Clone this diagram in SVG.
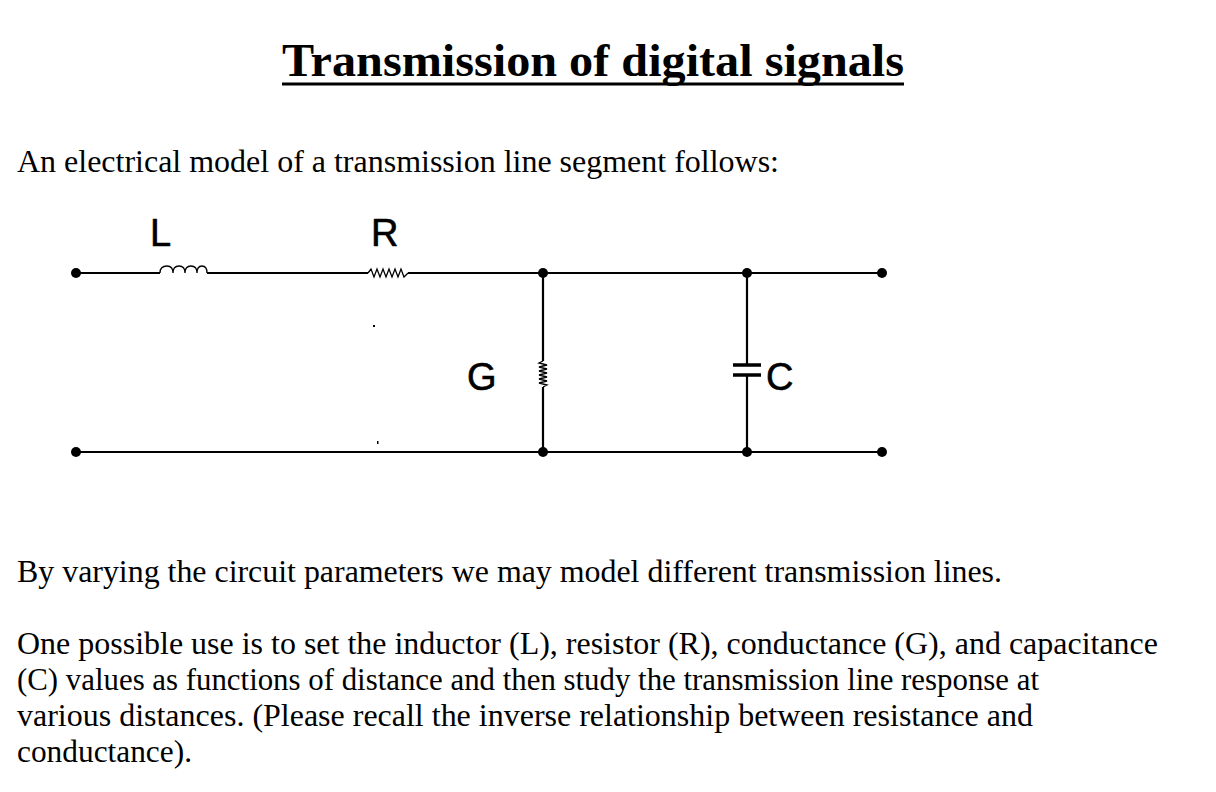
<svg xmlns="http://www.w3.org/2000/svg" width="1216" height="792" viewBox="0 0 1216 792">
<style>
.t{font-family:"Liberation Serif",serif;font-size:31.5px;fill:#000}
.lbl{font-family:"Liberation Sans",Arial,sans-serif;font-size:38px;fill:#000;stroke:#000;stroke-width:0.6}
.w{stroke:#000;stroke-width:2.2;fill:none}
.thin{stroke:#000;stroke-width:1.3;fill:none}
</style>
<rect width="1216" height="792" fill="#fff"/>
<text x="282" y="76" textLength="622" lengthAdjust="spacingAndGlyphs" style="font-family:'Liberation Serif',serif;font-size:46px;font-weight:bold">Transmission of digital signals</text>
<line x1="282" y1="84" x2="904" y2="84" stroke="#000" stroke-width="3"/>
<text class="t" x="17" y="172" textLength="762" lengthAdjust="spacingAndGlyphs">An electrical model of a transmission line segment follows:</text>
<g id="connectors">
<path class="w" d="M76 273 H160 M207 273 H368 M408 273 H882"/>
<path class="w" d="M76 452 H882"/>
<path class="w" d="M543 273 V361 M543 387 V452"/>
<path class="w" d="M747 273 V364 M747 376 V452"/>
</g>
<g id="L"><text class="lbl" x="150" y="246">L</text>
<path class="thin" d="M160 273 q0 -7 7 -7 q6 0 6 7 q0 -7 6 -7 q6 0 6 7 q0 -7 6 -7 q6 0 6 7 q0 -7 5 -7 q5 0 5 7"/></g>
<g id="R"><text class="lbl" x="371" y="246">R</text>
<path class="thin" d="M368 273 l3 -4 l3 8 l3 -8 l3 8 l3 -8 l3 8 l3 -8 l3 8 l3 -8 l3 8 l3 -8 l3 8 l4 -4"/></g>
<g id="G"><text class="lbl" x="467" y="390">G</text>
<path class="thin" d="M543 361 l-4 2 l8 2 l-8 2 l8 2 l-8 2 l8 2 l-8 2 l8 2 l-8 2 l8 2 l-8 2 l8 2 l-4 2"/></g>
<g id="C"><text class="lbl" x="766" y="390">C</text>
<path d="M733 365 H761 M733 375 H761" stroke="#000" stroke-width="3.5"/></g>
<g id="nodes" fill="#000">
<circle cx="76" cy="273" r="5"/><circle cx="543" cy="273" r="5"/><circle cx="747" cy="273" r="5"/><circle cx="882" cy="273" r="5"/>
<circle cx="76" cy="452" r="5"/><circle cx="543" cy="452" r="5"/><circle cx="747" cy="452" r="5"/><circle cx="882" cy="452" r="5"/>
<rect x="373" y="325" width="2" height="2"/><rect x="377" y="441" width="1.5" height="3"/>
</g>
<text class="t" x="17" y="582" textLength="985" lengthAdjust="spacingAndGlyphs">By varying the circuit parameters we may model different transmission lines.</text>
<text class="t" x="17" y="654" textLength="1141" lengthAdjust="spacingAndGlyphs">One possible use is to set the inductor (L), resistor (R), conductance (G), and capacitance</text>
<text class="t" x="17" y="690" textLength="1022" lengthAdjust="spacingAndGlyphs">(C) values as functions of distance and then study the transmission line response at</text>
<text class="t" x="17" y="726" textLength="1016" lengthAdjust="spacingAndGlyphs">various distances. (Please recall the inverse relationship between resistance and</text>
<text class="t" x="17" y="762" textLength="175" lengthAdjust="spacingAndGlyphs">conductance).</text>
</svg>
